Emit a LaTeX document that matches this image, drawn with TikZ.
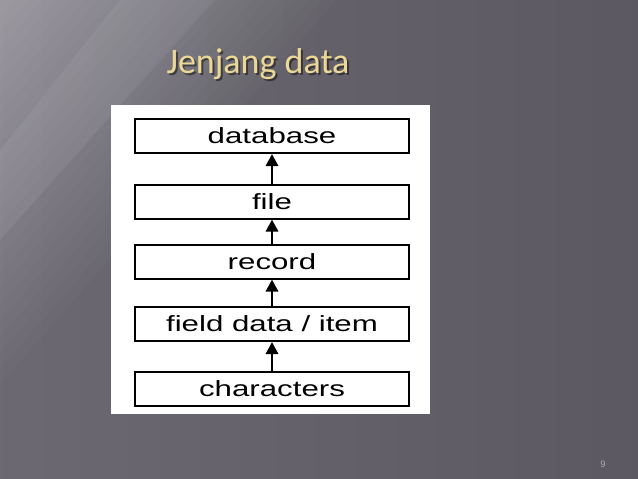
\documentclass[tikz,border=0pt]{standalone}
\usepackage{fontspec}
\usepackage{graphicx}
\setmainfont{Liberation Sans}
\newfontfamily\titlefont{Carlito}
\usepackage{tikz}
\usetikzlibrary{arrows.meta}
\usetikzlibrary{positioning}
\definecolor{slidebg}{RGB}{96,93,102}
\definecolor{slidelight}{RGB}{175,170,182}
\definecolor{titletan}{RGB}{236,216,150}
\newcommand{\widetext}[1]{\scalebox{1.42}[1]{#1}}
\tikzset{
	levelbox/.style={rectangle, draw=black, line width=1.5pt, minimum width=206pt, minimum height=25.5pt, inner sep=0pt, font=\fontsize{16.5}{18}\selectfont},
	uparrow/.style={line width=2.2pt, -{Triangle[width=9pt,length=9pt]}}
}

\begin{document}
\begin{tikzpicture}[x=0.75pt, y=-0.75pt]
		% slide background
		\shade[left color=slidebg!85!slidelight, right color=slidebg!95!black] (0,0) rectangle (638,478);
		\foreach \i in {1,...,24}
			\fill[white, opacity=0.018] (0,0) -- (\i*14,0) -- (0,\i*16) -- cycle;
		\fill[white, opacity=0.06] (120,0) -- (215,0) -- (0,240) -- (0,150) -- cycle;
		\useasboundingbox (0,0) rectangle (638,478);
		% title
		\node[text=black, opacity=0.45, font=\titlefont\fontsize{27}{30}\selectfont] at (260,66) (tshadow) {Jenjang data};
		\node[text=titletan, font=\titlefont\fontsize{27}{30}\selectfont] at (258,64) (title) {Jenjang data};
		% diagram panel
		\fill[white] (111,105) rectangle (430,414);
		\node[levelbox] at (272,136) (db)    {\widetext{database}};
		\node[levelbox] at (272,201.5) (fl)  {\widetext{file}};
		\node[levelbox] at (272,261.5) (rec) {\widetext{record}};
		\node[levelbox] at (272,324) (fd)    {\widetext{field data / item}};
		\node[levelbox] at (272,389) (ch)    {\widetext{characters}};
		\draw[uparrow] (fl.north) -- (db.south);
		\draw[uparrow] (rec.north) -- (fl.south);
		\draw[uparrow] (fd.north) -- (rec.south);
		\draw[uparrow] (ch.north) -- (fd.south);
		% page number
		\node[text=slidelight, font=\fontsize{7}{8}\selectfont] at (603,464) (pnum) {9};
	\end{tikzpicture}
\end{document}
